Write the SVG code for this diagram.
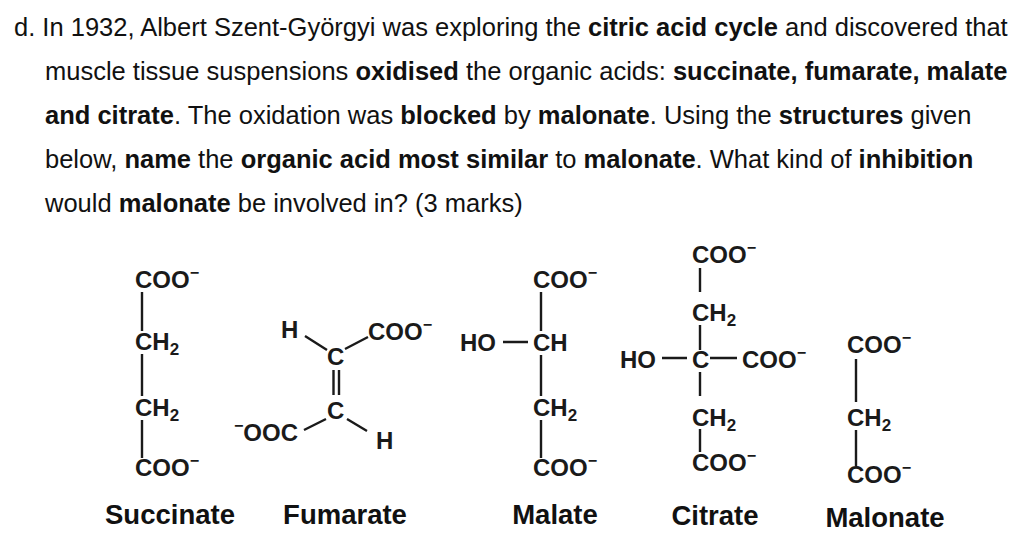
<svg xmlns="http://www.w3.org/2000/svg" width="1024" height="550" viewBox="0 0 1024 550">
<style>
.q{font-family:"Liberation Sans",Arial,sans-serif;font-size:25.5px;fill:#111}
.b{font-weight:bold}
.c{font-family:"Liberation Sans",Arial,sans-serif;font-size:24px;font-weight:bold;fill:#1a1a1a}
.l{font-family:"Liberation Sans",Arial,sans-serif;font-size:27.5px;font-weight:bold;fill:#111;text-anchor:middle}
.bd{stroke:#1a1a1a;stroke-width:2.4;fill:none}
.s{font-size:16px}
.u{font-size:17px}
</style>
<rect width="1024" height="550" fill="#fff"/>
<g id="question">
<text class="q" x="14" y="36">d. In 1932, Albert Szent-Györgyi was exploring the <tspan class="b">citric acid cycle</tspan> and discovered that</text>
<text class="q" x="45" y="80">muscle tissue suspensions <tspan class="b">oxidised</tspan> the organic acids: <tspan class="b">succinate, fumarate, malate</tspan></text>
<text class="q" x="45" y="124"><tspan class="b">and citrate</tspan>. The oxidation was <tspan class="b">blocked</tspan> by <tspan class="b">malonate</tspan>. Using the <tspan class="b">structures</tspan> given</text>
<text class="q" x="45" y="168">below, <tspan class="b">name</tspan> the <tspan class="b">organic acid most similar</tspan> to <tspan class="b">malonate</tspan>. What kind of <tspan class="b">inhibition</tspan></text>
<text class="q" x="45" y="212">would <tspan class="b">malonate</tspan> be involved in? (3 marks)</text>
</g>
<g id="succinate">
<text class="c" x="135" y="288">COO<tspan class="s" dy="-10">−</tspan></text>
<text class="c" x="135" y="350">CH<tspan class="u" dy="5">2</tspan></text>
<text class="c" x="135" y="416">CH<tspan class="u" dy="5">2</tspan></text>
<text class="c" x="135" y="476">COO<tspan class="s" dy="-10">−</tspan></text>
<path class="bd" d="M142 292V331M142 354V396M142 420V458"/>
<text class="l" x="170" y="524">Succinate</text>
</g>
<g id="fumarate">
<text class="c" x="281" y="338">H</text>
<text class="c" x="327" y="365">C</text>
<text class="c" x="368" y="340">COO<tspan class="s" dy="-10">−</tspan></text>
<text class="c" x="327" y="419">C</text>
<text class="c" x="234" y="441"><tspan class="s" dy="-10">−</tspan><tspan dy="10">OOC</tspan></text>
<text class="c" x="376" y="449">H</text>
<path class="bd" d="M305 336L327 350M345 349L368 337M333.5 370V395M339 370V395M304 430L326 419M347 419L367 431"/>
<text class="l" x="345" y="524">Fumarate</text>
</g>
<g id="malate">
<text class="c" x="533" y="288">COO<tspan class="s" dy="-10">−</tspan></text>
<text class="c" x="460" y="351">HO</text>
<text class="c" x="533" y="351">CH</text>
<text class="c" x="533" y="416">CH<tspan class="u" dy="5">2</tspan></text>
<text class="c" x="533" y="476">COO<tspan class="s" dy="-10">−</tspan></text>
<path class="bd" d="M541 292V331M541 355V396M541 420V458M503 342H528"/>
<text class="l" x="555" y="524">Malate</text>
</g>
<g id="citrate">
<text class="c" x="692" y="263">COO<tspan class="s" dy="-10">−</tspan></text>
<text class="c" x="692" y="321">CH<tspan class="u" dy="5">2</tspan></text>
<text class="c" x="620" y="368">HO</text>
<text class="c" x="692" y="368">C</text>
<text class="c" x="742" y="368">COO<tspan class="s" dy="-10">−</tspan></text>
<text class="c" x="692" y="426">CH<tspan class="u" dy="5">2</tspan></text>
<text class="c" x="692" y="471">COO<tspan class="s" dy="-10">−</tspan></text>
<path class="bd" d="M700 268V292M700 325V350M700 372V396M700 429V452M662 358H687M710 358H737"/>
<text class="l" x="715" y="525">Citrate</text>
</g>
<g id="malonate">
<text class="c" x="847" y="353">COO<tspan class="s" dy="-10">−</tspan></text>
<text class="c" x="847" y="426">CH<tspan class="u" dy="5">2</tspan></text>
<text class="c" x="847" y="483">COO<tspan class="s" dy="-10">−</tspan></text>
<path class="bd" d="M856 359V402M856 430V466"/>
<text class="l" x="885" y="527">Malonate</text>
</g>
</svg>
